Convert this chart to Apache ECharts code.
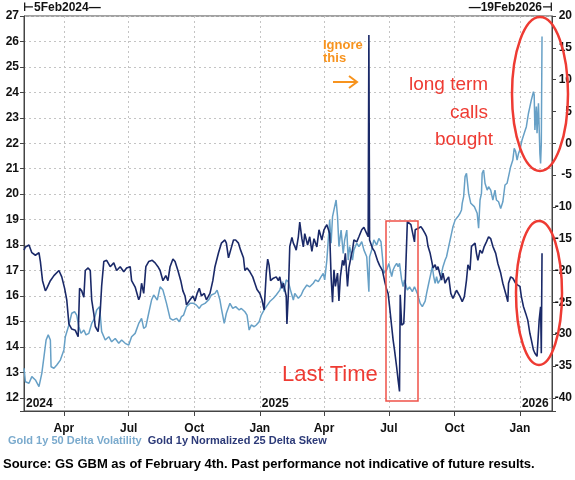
<!DOCTYPE html>
<html>
<head>
<meta charset="utf-8">
<script src="https://cdn.jsdelivr.net/npm/echarts@6/dist/echarts.min.js"></script>
<style>
html,body{margin:0;padding:0;background:#fff;}
#chart{width:575px;height:480px;}
</style>
</head>
<body>
<div id="chart"></div>
<script>
// x values are day offsets counted from 5 Feb 2024
var volDays = [0,2,7,11,16,21,23,25,28,31,34,37,38,42,46,51,56,58,63,67,71,74,77,80,84,87,91,95,99,102,106,109,114,119,123,128,133,137,142,147,151,156,161,165,168,171,175,179,182,187,
  191,195,200,205,209,214,218,221,224,228,233,238,242,246,249,254,259,263,268,271,273,275,277,281,284,289,293,297,302,305,310,313,316,319,323,326,330,333,337,340,345,350,354,359,363,365,368,371,374,378,
  380,385,389,392,397,401,406,409,413,417,420,422,425,427,429,431,433,435,438,440,442,445,448,450,453,455,457,461,463,467,470,474,477,481,483,484,485,488,491,495,498,501,503,505,509,512,516,518,520,523,525,527,530,532,534,538,541,545,548,552,556,559,
  563,565,568,571,573,575,577,579,581,584,586,588,591,593,595,598,600,602,605,607,609,612,614,615,617,619,621,622,624,627,629,632,634,636,638,640,642,643,645,647,650,652,655,658,661,663,666,669,672,675,678,680,683,686,688,690,692,694,696,699,702,705,708,710,712,715,716,717,719,720,722,723,724,725,726,727];
var volValues = [13.16,12.63,12.57,12.83,12.70,12.44,12.37,12.96,13.61,14.27,14.47,14.27,13.22,13.16,13.29,13.48,13.88,14.40,14.86,15.32,15.38,15.25,14.79,14.53,14.66,14.47,14.53,14.92,15.12,15.45,15.58,14.60,14.27,14.40,14.20,14.33,14.14,14.27,14.14,14.07,14.40,14.53,14.92,15.12,14.73,14.79,15.32,15.84,16.04,15.84,
  16.36,16.23,15.71,15.12,15.05,15.12,14.99,15.19,15.25,15.58,15.71,15.71,15.64,15.51,15.64,15.71,15.84,16.04,16.10,16.23,16.30,15.84,15.51,14.92,15.32,15.71,15.51,15.58,15.45,15.51,15.38,15.25,14.66,14.86,14.79,14.86,14.99,15.25,15.45,15.58,15.78,15.91,16.04,16.23,16.56,16.17,16.63,16.56,16.23,15.84,
  16.10,15.91,16.04,16.23,16.43,16.36,16.50,16.63,16.56,16.76,16.89,16.63,17.40,18.20,18.98,18.07,19.12,19.38,19.77,19.12,17.94,18.59,17.67,18.20,18.59,17.41,17.94,17.41,17.81,18.07,17.94,18.13,17.81,17.54,17.54,16.17,17.54,17.81,18.20,18.00,18.26,18.13,17.54,16.89,17.02,17.28,16.76,17.02,17.15,17.28,17.15,17.28,16.63,16.37,16.63,16.23,16.36,16.17,16.36,16.10,15.71,15.58,
  15.80,16.10,16.50,16.89,17.15,16.76,16.50,16.76,16.50,16.63,16.89,17.15,17.41,17.54,17.81,18.20,18.46,18.72,18.98,18.92,19.12,19.25,19.38,19.64,19.90,20.69,20.82,20.88,20.03,19.64,19.70,19.51,19.57,19.25,18.66,19.77,20.03,20.82,20.95,20.43,20.16,20.29,20.16,19.77,20.16,19.77,19.70,19.44,19.70,20.36,20.43,20.69,21.08,21.34,21.80,21.67,21.34,21.60,21.74,22.13,22.39,22.65,23.18,23.44,23.70,24.03,23.90,22.52,23.44,22.39,23.57,23.57,21.60,21.21,22.00,26.19];

var skewDays = [0,2,7,11,16,21,23,26,30,32,37,42,49,53,57,60,63,67,72,76,78,81,84,86,90,93,95,98,100,104,107,109,112,116,121,126,130,135,140,144,149,151,156,161,163,165,168,171,175,180,184,188,
  191,195,199,202,205,209,212,216,220,223,226,228,233,237,240,243,246,249,253,256,261,265,268,273,277,282,284,287,290,294,297,301,304,308,310,313,317,321,324,327,331,334,337,340,342,344,346,350,354,357,359,362,364,368,369,371,373,376,378,380,
  382,385,387,390,392,394,398,401,404,407,411,414,418,421,425,427,429,431,433,435,437,440,442,444,447,449,451,454,456,459,461,463,467,470,474,477,481,483,484,485,489,492,496,499,503,506,509,511,513,516,518,520,523,525,527,528,530,533,534,536,538,540,543,545,548,549,553,557,560,
  563,565,567,570,572,574,577,579,581,584,586,588,591,593,596,599,602,607,612,615,618,621,623,626,628,630,633,635,637,640,643,646,649,652,655,658,662,665,669,672,676,679,680,683,686,690,693,696,698,701,704,707,710,712,715,717,720,722,723,725,726,727];
var skewValues = [-16.8,-16.3,-16.0,-17.2,-17.6,-17.2,-18.6,-21.6,-23.2,-22.8,-21.6,-20.8,-20.0,-21.0,-22.8,-24.6,-28.4,-29.2,-29.4,-30.4,-22.8,-23.2,-24.2,-20.0,-19.6,-20.0,-24.6,-26.8,-28.8,-29.6,-26.4,-22.4,-18.6,-18.4,-19.4,-18.8,-20.0,-19.4,-20.2,-19.6,-19.4,-21.6,-22.6,-24.6,-24.0,-22.0,-23.6,-19.4,-18.6,-18.4,-18.8,-19.4,
  -20.0,-21.6,-20.8,-21.6,-19.4,-18.2,-18.6,-20.0,-21.6,-23.2,-24.0,-25.4,-24.6,-24.0,-24.8,-23.6,-22.8,-24.0,-23.6,-24.6,-23.6,-21.6,-19.4,-17.2,-15.7,-15.2,-15.7,-18.0,-16.8,-15.2,-15.2,-15.7,-16.8,-18.0,-20.0,-19.6,-20.2,-21.0,-22.0,-23.0,-23.6,-24.6,-26.2,-20.4,-18.2,-19.2,-21.6,-21.2,-21.0,-21.6,-21.0,-22.8,-22.0,-24.0,-28.4,-23.6,-16.2,-14.8,-15.7,-16.2,
  -16.8,-14.7,-12.4,-15.0,-16.3,-14.2,-16.0,-14.7,-17.0,-15.0,-16.3,-13.6,-15.2,-13.6,-12.8,-12.6,-14.2,-21.0,-25.0,-19.9,-22.5,-20.4,-24.8,-21.0,-18.4,-19.2,-17.3,-22.5,-19.6,-17.8,-16.8,-15.2,-15.5,-14.7,-13.6,-13.2,-14.2,-14.7,17.0,-15.2,-16.5,-17.0,-18.4,-19.2,-20.0,-21.6,-23.0,-23.6,-25.6,-28.8,-30.9,-32.5,-35.2,-37.2,-39.0,-23.8,-28.6,-28.3,-25.7,-18.9,-12.3,-12.0,-12.8,-12.6,-15.5,-13.6,-13.4,-13.1,-13.6,
  -14.2,-14.7,-16.2,-17.3,-18.4,-19.6,-19.1,-19.9,-19.4,-20.7,-21.5,-20.4,-22.0,-21.5,-21.0,-23.6,-24.4,-23.1,-24.1,-24.9,-24.1,-21.5,-19.1,-19.9,-16.2,-16.0,-15.7,-17.3,-18.4,-16.8,-17.3,-16.2,-15.5,-14.7,-15.0,-16.2,-17.3,-18.9,-20.4,-22.0,-23.6,-24.9,-22.0,-21.0,-21.2,-22.0,-22.3,-22.5,-24.1,-25.7,-26.7,-27.8,-29.9,-30.9,-32.5,-33.0,-33.5,-33.3,-27.8,-25.7,-33.0,-17.3];

var quarterMonths = ['01', '04', '07', '10'];
var quarterLabels = ['Jan', 'Apr', 'Jul', 'Oct'];

var lightBlue = '#67a0c6';
var darkBlue = '#1a2968';
var red = '#ee3b33';
var orange = '#f7931e';
var labelFont = 'Liberation Sans';

// one category per calendar day
var startDate = Date.UTC(2024, 1, 5);
var days = [];
for (var i = 0; i < 742; i++) {
    days.push(new Date(startDate + i * 86400000).toISOString().slice(0, 10));
}

function isQuarterStart(index, value) {
    return value.slice(8) === '01' && quarterMonths.indexOf(value.slice(5, 7)) >= 0;
}
function isYearStart(index, value) {
    return index === 0 || value.slice(5) === '01-01';
}

var volData = volDays.map(function (d, i) { return [d, volValues[i]]; });
var skewData = skewDays.map(function (d, i) { return [d, skewValues[i]]; });

var chart = echarts.init(document.getElementById('chart'));

var option = {
    animation: false,
    grid: {
        left: 24, right: 22, top: 16, bottom: 69,
        show: true, borderColor: '#444', borderWidth: 1
    },
    legend: {
        left: 2, top: 435, padding: 0, itemWidth: 0, itemHeight: 0, itemGap: 0,
        textStyle: {fontFamily: labelFont, fontWeight: 'bold', fontSize: 11},
        data: [
            {name: 'Gold 1y 50 Delta Volatility', textStyle: {color: '#7aaacd'}},
            {name: 'Gold 1y Normalized 25 Delta Skew', textStyle: {color: '#2c3a78'}}
        ]
    },
    xAxis: [{
        type: 'category', data: days, boundaryGap: false,
        axisLine: {onZero: false, lineStyle: {color: '#444'}},
        axisTick: {interval: isQuarterStart, length: 5, lineStyle: {color: '#444'}},
        axisLabel: {
            interval: isQuarterStart, margin: 12,
            color: '#111', fontFamily: labelFont, fontWeight: 'bold', fontSize: 12,
            formatter: function (v) { return quarterLabels[quarterMonths.indexOf(v.slice(5, 7))]; }
        },
        splitLine: {show: true, interval: isQuarterStart, lineStyle: {color: '#c4c4c4', type: [2, 3]}}
    }, {
        type: 'category', data: days, boundaryGap: false, position: 'bottom',
        axisLine: {show: false, onZero: false}, axisTick: {show: false}, splitLine: {show: false},
        axisLabel: {
            inside: true, margin: 1, interval: isYearStart, align: 'left', padding: [0, 0, 0, 2],
            color: '#111', fontFamily: labelFont, fontWeight: 'bold', fontSize: 12,
            formatter: function (v) { return v.slice(0, 4); }
        }
    }],
    yAxis: [{
        type: 'value', min: 11.48, max: 27, splitNumber: 15,
        axisLine: {show: true, lineStyle: {color: '#444'}},
        axisTick: {show: true, length: 4, lineStyle: {color: '#444'}},
        axisLabel: {
            margin: 5, color: '#111', fontFamily: labelFont, fontWeight: 'bold', fontSize: 12,
            formatter: function (v) { return Math.abs(v - Math.round(v)) < 1e-6 ? String(Math.round(v)) : ''; }
        },
        splitLine: {show: true, lineStyle: {color: '#c4c4c4', type: [2, 3]}}
    }, {
        type: 'value', position: 'right', min: -42.08, max: 20, splitNumber: 12,
        axisLine: {show: true, lineStyle: {color: '#444'}},
        axisTick: {show: true, length: 4, lineStyle: {color: '#444'}},
        axisLabel: {
            margin: 20, align: 'right', color: '#111', fontFamily: labelFont, fontWeight: 'bold', fontSize: 12,
            formatter: function (v) { return Math.abs(v / 5 - Math.round(v / 5)) < 1e-6 ? String(Math.round(v)) : ''; }
        },
        splitLine: {show: false}
    }],
    series: [{
        name: 'Gold 1y 50 Delta Volatility', type: 'line', xAxisIndex: 0, yAxisIndex: 0,
        data: volData, symbol: 'none',
        lineStyle: {color: lightBlue, width: 1.5}, itemStyle: {color: lightBlue}
    }, {
        name: 'Gold 1y Normalized 25 Delta Skew', type: 'line', xAxisIndex: 0, yAxisIndex: 1,
        data: skewData, symbol: 'none',
        lineStyle: {color: darkBlue, width: 1.6}, itemStyle: {color: darkBlue}
    }],
    graphic: [
        {type: 'text', left: 23, top: 2, z: 100, style: {text: '⊢5Feb2024—', font: 'bold 12px "Liberation Sans", "DejaVu Sans"', fill: '#111'}},
        {type: 'text', right: 22, top: 2, z: 100, style: {text: '—19Feb2026⊣', font: 'bold 12px "Liberation Sans", "DejaVu Sans"', fill: '#111'}},

        {type: 'text', left: 323, top: 39, z: 100, style: {text: 'Ignore', font: 'bold 13px "Liberation Sans"', fill: orange}},
        {type: 'text', left: 323, top: 52, z: 100, style: {text: 'this', font: 'bold 13px "Liberation Sans"', fill: orange}},
        {type: 'line', z: 100, shape: {x1: 333, y1: 82, x2: 357, y2: 82}, style: {stroke: orange, lineWidth: 2}},
        {type: 'polyline', z: 100, shape: {points: [[349, 76], [357, 82], [349, 88]]}, style: {stroke: orange, lineWidth: 2, fill: 'none'}},

        {type: 'text', left: 409, top: 75, z: 100, style: {text: 'long term', font: '19px "Liberation Sans"', fill: red}},
        {type: 'text', left: 450, top: 103, z: 100, style: {text: 'calls', font: '19px "Liberation Sans"', fill: red}},
        {type: 'text', left: 435, top: 130, z: 100, style: {text: 'bought', font: '19px "Liberation Sans"', fill: red}},
        {type: 'text', left: 282, top: 364, z: 100, style: {text: 'Last Time', font: '22px "Liberation Sans"', fill: red}},

        {type: 'ellipse', z: 100, shape: {cx: 540, cy: 94, rx: 28, ry: 77}, style: {fill: 'none', stroke: red, lineWidth: 2.5}},
        {type: 'ellipse', z: 100, shape: {cx: 539, cy: 293, rx: 23, ry: 72}, style: {fill: 'none', stroke: red, lineWidth: 2.5}},
        {type: 'rect', z: 100, shape: {x: 386, y: 221, width: 32, height: 180}, style: {fill: 'none', stroke: '#ef5148', lineWidth: 1.5}},

        {type: 'text', left: 3, top: 458, z: 100, style: {text: 'Source: GS GBM as of February 4th. Past performance not indicative of future results.', font: 'bold 13px "Liberation Sans"', fill: '#000'}}
    ]
};

chart.setOption(option);
</script>
</body>
</html>
